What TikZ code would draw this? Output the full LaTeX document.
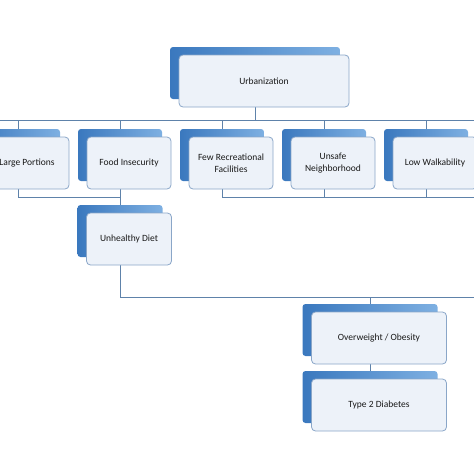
\documentclass[tikz,border=0pt]{standalone}
\usepackage{fontspec}
\setmainfont{Carlito}
\usepackage{tikz}
\usetikzlibrary{calc}
\definecolor{backdark}{HTML}{3A78BE}
\definecolor{backlight}{HTML}{7EB0E2}
\definecolor{frameblue}{HTML}{8AA6C8}
\definecolor{paleblue}{HTML}{EDF2F9}
\definecolor{lineblue}{HTML}{5E82AA}
\tikzset{
    back/.style={rounded corners=3pt, left color=backdark, right color=backlight,
        inner sep=0pt, minimum width=#1, minimum height=52pt},
    front/.style={draw=frameblue, line width=0.8pt, fill=paleblue, rounded corners=4pt,
        inner sep=0pt, minimum width=#1, minimum height=52pt,
        align=center, font=\fontsize{9.5}{11.5}\selectfont, text=black!90},
    link/.style={draw=lineblue, line width=0.8pt}
}

\begin{document}
\begin{tikzpicture}[x=1pt,y=-1pt]
    \useasboundingbox (0,0) rectangle (474,474);
    % bus lines
    \coordinate (topbus) at (0,120);
    \coordinate (midbus) at (0,197);
    \coordinate (lowbus) at (0,297);
    \coordinate (rightend) at (474,0);
    % back plates
    \node[back=170pt] (urbB) at (255,73) {};
    \node[back=84pt] (portB) at (18,155) {};
    \node[back=84pt] (foodB) at (120,155) {};
    \node[back=84pt] (recrB) at (222,155) {};
    \node[back=84pt] (unsafeB) at (324,155) {};
    \node[back=84pt] (walkB) at (426,155) {};
    \node[back=85pt] (dietB) at (120,231) {};
    \node[back=135pt] (obesB) at (370,330) {};
    \node[back=135pt] (diabB) at (370,397) {};
    % connectors
    \draw[link] (urbB) -- (urbB |- topbus);
    \draw[link] (topbus) -- (rightend |- topbus);
    \foreach \n in {portB,foodB,recrB,unsafeB,walkB}
        \draw[link] (\n |- topbus) -- (\n);
    \draw[link] (portB) |- (foodB |- midbus) -- (dietB);
    \draw[link] (foodB) -- (foodB |- midbus);
    \draw[link] (recrB) |- (rightend |- midbus);
    \draw[link] (unsafeB) -- (unsafeB |- midbus);
    \draw[link] (walkB) -- (walkB |- midbus);
    \draw[link] (dietB) |- (rightend |- lowbus);
    \draw[link] (obesB |- lowbus) -- (obesB);
    \draw[link] (obesB) -- (diabB);
    % front boxes
    \node[front=170pt] (urb) at ($(urbB)+(9,8)$) {Urbanization};
    \node[front=84pt] (port) at ($(portB)+(9,8)$) {Large Portions};
    \node[front=84pt] (food) at ($(foodB)+(9,8)$) {Food Insecurity};
    \node[front=84pt] (recr) at ($(recrB)+(9,8)$) {Few Recreational\\Facilities};
    \node[front=84pt] (unsafe) at ($(unsafeB)+(9,8)$) {Unsafe\\Neighborhood};
    \node[front=84pt] (walk) at ($(walkB)+(9,8)$) {Low Walkability};
    \node[front=85pt] (diet) at ($(dietB)+(9,8)$) {Unhealthy Diet};
    \node[front=135pt] (obes) at ($(obesB)+(9,8)$) {Overweight / Obesity};
    \node[front=135pt] (diab) at ($(diabB)+(9,8)$) {Type 2 Diabetes};
\end{tikzpicture}
\end{document}
